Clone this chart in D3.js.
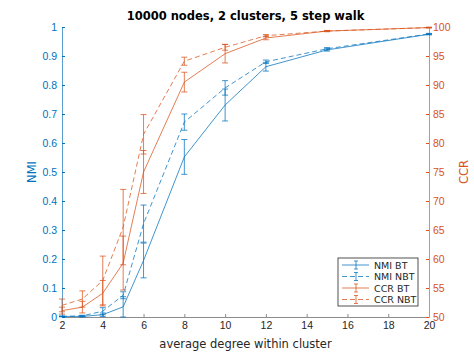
<!DOCTYPE html>
<html>
<head>
<meta charset="utf-8">
<script src="https://cdn.jsdelivr.net/npm/d3@7/dist/d3.min.js"></script>
<style>
  body { margin: 0; background: #fff; }
  svg { font-family: "DejaVu Sans", sans-serif; }
</style>
</head>
<body>
<div id="chart"></div>
<script>
// data
var degrees = [2, 3, 4, 5, 6, 8, 10, 12, 15, 20];

var nmiBT     = [0.002, 0.002, 0.008, 0.035, 0.195, 0.552, 0.731, 0.863, 0.921, 0.975];
var nmiBTErr  = [0.001, 0.002, 0.006, 0.035, 0.060, 0.060, 0.055, 0.015, 0.004, 0.002];
var nmiNBT    = [0.002, 0.004, 0.020, 0.075, 0.322, 0.672, 0.790, 0.880, 0.925, 0.976];
var nmiNBTErr = [0.001, 0.002, 0.012, 0.012, 0.064, 0.028, 0.025, 0.006, 0.004, 0.002];

var ccrBT     = [51.1, 51.7, 54.1, 59.3, 75.0, 90.5, 95.4, 98.1, 99.3, 99.9];
var ccrBTErr  = [0.6, 1.0, 2.2, 4.65, 3.7, 1.7, 1.6, 0.3, 0.1, 0.05];
var ccrNBT    = [52.0, 53.1, 56.3, 65.5, 81.5, 94.1, 96.5, 98.5, 99.3, 99.9];
var ccrNBTErr = [1.1, 1.4, 4.2, 6.5, 3.4, 0.7, 0.5, 0.2, 0.1, 0.05];

var xTicks = [2, 4, 6, 8, 10, 12, 14, 16, 18, 20];
var nmiTicks = [0, 0.1, 0.2, 0.3, 0.4, 0.5, 0.6, 0.7, 0.8, 0.9, 1];
var ccrTicks = [50, 55, 60, 65, 70, 75, 80, 85, 90, 95, 100];

var blue = "#0072BD";
var orange = "#D95319";
var gray = "#262626";

var svgWidth = 474;
var svgHeight = 356;

var margin = {
  top: 27,
  right: 45,
  bottom: 39,
  left: 62
};

var width = svgWidth - margin.left - margin.right;
var height = svgHeight - margin.top - margin.bottom;

var svg = d3.select("#chart")
  .append("svg")
  .attr("width", svgWidth)
  .attr("height", svgHeight);

var chartGroup = svg.append("g")
  .attr("transform", `translate(${margin.left}, ${margin.top})`);

var xScale = d3.scaleLinear().domain([2, 20]).range([0, width]);
var yLeft = d3.scaleLinear().domain([0, 1]).range([height, 0]);
var yRight = d3.scaleLinear().domain([50, 100]).range([height, 0]);

// axes, ticks point inward like matlab
var bottomAxis = d3.axisBottom(xScale)
  .tickValues(xTicks).tickSizeInner(-3).tickSizeOuter(0).tickPadding(5)
  .tickFormat(d3.format("d"));
var leftAxis = d3.axisLeft(yLeft)
  .tickValues(nmiTicks).tickSizeInner(-3).tickSizeOuter(0).tickPadding(5)
  .tickFormat(d => d === 0 || d === 1 ? d3.format("d")(d) : d3.format(".1f")(d));
var rightAxis = d3.axisRight(yRight)
  .tickValues(ccrTicks).tickSizeInner(-3).tickSizeOuter(0).tickPadding(4)
  .tickFormat(d3.format("d"));

function styleAxis(g, color) {
  g.selectAll("path").attr("stroke", color).attr("stroke-width", 1);
  g.selectAll("line").attr("stroke", color).attr("stroke-width", 1);
  g.selectAll("text").attr("fill", color).attr("font-size", 10.5);
}

var xAxisG = chartGroup.append("g")
  .attr("transform", `translate(0, ${height})`)
  .call(bottomAxis);
styleAxis(xAxisG, gray);
xAxisG.select("path").attr("stroke", "#8c8c8c");
xAxisG.selectAll("line").attr("stroke", "#8c8c8c");

var yAxisG = chartGroup.append("g").call(leftAxis);
styleAxis(yAxisG, blue);
yAxisG.select("path").attr("stroke", "#5a9fd0");

var y2AxisG = chartGroup.append("g")
  .attr("transform", `translate(${width}, 0)`)
  .call(rightAxis);
styleAxis(y2AxisG, orange);
y2AxisG.select("path").attr("stroke", "#e58a62");

// series
var series = [
  { name: "NMI BT",  vals: nmiBT,  errs: nmiBTErr,  y: yLeft,  color: blue,   dash: null },
  { name: "NMI NBT", vals: nmiNBT, errs: nmiNBTErr, y: yLeft,  color: blue,   dash: "5,3" },
  { name: "CCR BT",  vals: ccrBT,  errs: ccrBTErr,  y: yRight, color: orange, dash: null },
  { name: "CCR NBT", vals: ccrNBT, errs: ccrNBTErr, y: yRight, color: orange, dash: "5,3" }
];

var cap = 3;
var lw = 0.75;

series.forEach(function(s) {
  var pts = degrees.map((d, i) => ({ x: d, v: s.vals[i], e: s.errs[i] }));
  var g = chartGroup.append("g");

  var line = d3.line()
    .x(d => xScale(d.x))
    .y(d => s.y(d.v));

  g.append("path")
    .datum(pts)
    .attr("d", line)
    .attr("fill", "none")
    .attr("stroke", s.color)
    .attr("stroke-width", lw)
    .attr("stroke-dasharray", s.dash);

  var bars = g.selectAll(".eb")
    .data(pts)
    .enter()
    .append("g")
    .attr("stroke", s.color)
    .attr("stroke-width", lw);

  bars.append("line")
    .attr("x1", d => xScale(d.x)).attr("x2", d => xScale(d.x))
    .attr("y1", d => s.y(d.v - d.e)).attr("y2", d => s.y(d.v + d.e));
  bars.append("line")
    .attr("x1", d => xScale(d.x) - cap).attr("x2", d => xScale(d.x) + cap)
    .attr("y1", d => s.y(d.v - d.e)).attr("y2", d => s.y(d.v - d.e));
  bars.append("line")
    .attr("x1", d => xScale(d.x) - cap).attr("x2", d => xScale(d.x) + cap)
    .attr("y1", d => s.y(d.v + d.e)).attr("y2", d => s.y(d.v + d.e));
});

// title and labels
svg.append("text")
  .attr("x", margin.left + width / 2)
  .attr("y", 20)
  .attr("text-anchor", "middle")
  .attr("font-size", 11.5)
  .attr("font-weight", "bold")
  .attr("fill", "#000")
  .text("10000 nodes, 2 clusters, 5 step walk");

svg.append("text")
  .attr("x", margin.left + width / 2)
  .attr("y", 348)
  .attr("text-anchor", "middle")
  .attr("font-size", 11.5)
  .attr("fill", gray)
  .text("average degree within cluster");

svg.append("text")
  .attr("transform", `translate(36, ${margin.top + height / 2}) rotate(-90)`)
  .attr("text-anchor", "middle")
  .attr("font-size", 11.5)
  .attr("fill", blue)
  .text("NMI");

svg.append("text")
  .attr("transform", `translate(468, ${margin.top + height / 2}) rotate(-90)`)
  .attr("text-anchor", "middle")
  .attr("font-size", 11.5)
  .attr("fill", orange)
  .text("CCR");

// legend
var legend = svg.append("g").attr("transform", "translate(338, 258)");
legend.append("rect")
  .attr("width", 80).attr("height", 48)
  .attr("fill", "#fff")
  .attr("stroke", gray)
  .attr("stroke-width", 0.8);

series.forEach(function(s, i) {
  var ly = 7 + i * 11.5;
  var row = legend.append("g").attr("stroke", s.color).attr("stroke-width", lw);
  row.append("line").attr("x1", 4).attr("x2", 31).attr("y1", ly).attr("y2", ly)
    .attr("stroke-dasharray", s.dash);
  row.append("line").attr("x1", 18).attr("x2", 18).attr("y1", ly - 4).attr("y2", ly + 4);
  row.append("line").attr("x1", 16).attr("x2", 20).attr("y1", ly - 4).attr("y2", ly - 4);
  row.append("line").attr("x1", 16).attr("x2", 20).attr("y1", ly + 4).attr("y2", ly + 4);
  legend.append("text")
    .attr("x", 36).attr("y", ly + 3.5)
    .attr("font-size", 9.5)
    .attr("fill", gray)
    .text(s.name);
});
</script>
</body>
</html>
